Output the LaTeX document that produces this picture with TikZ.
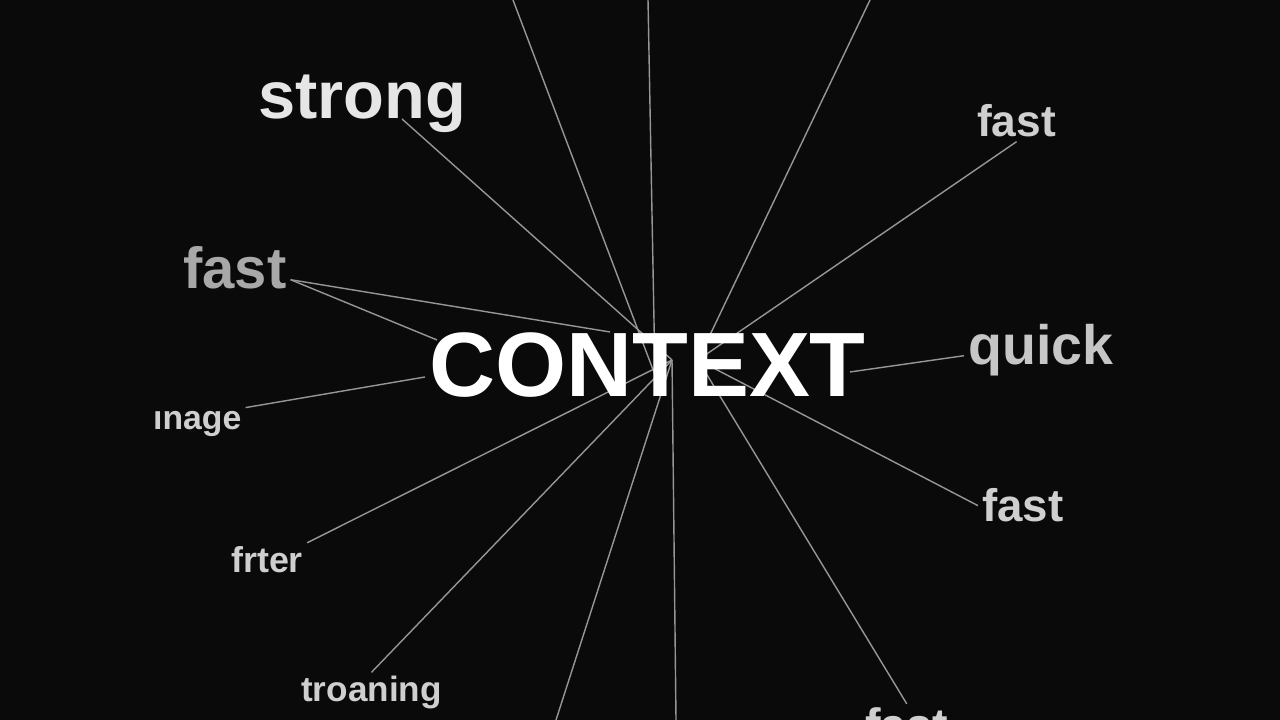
\documentclass[tikz,border=0pt]{standalone}
\usepackage{fontspec}
\setmainfont{Liberation Sans}

\definecolor{bg}{HTML}{0A0A0A}
\definecolor{spokegray}{HTML}{969696}
\definecolor{wordA}{HTML}{E6E6E6}
\definecolor{wordB}{HTML}{A8A8A8}
\definecolor{wordC}{HTML}{CFCFCF}
\definecolor{wordD}{HTML}{C6C6C6}

\begin{document}
\begin{tikzpicture}[
  word/.style={anchor=base west, inner sep=1pt, text=#1},
  spoke/.style={draw=spokegray, line width=0.4pt}
]
\clip (0,0) rectangle (12.8,7.2);
\fill[bg] (0,0) rectangle (12.8,7.2);

% words round the middle
\node[word=wordA, font=\fontsize{19}{23}\selectfont\bfseries] (strong) at (2.54,6.01) {strong};
\node[word=wordB, font=\fontsize{16.5}{20}\selectfont\bfseries] (fastL) at (1.79,4.31) {fast};
\node[word=wordC, font=\fontsize{12.6}{15}\selectfont\bfseries] (fastTR) at (9.73,5.83) {fast};
\node[word=wordD, font=\fontsize{15.8}{19}\selectfont\bfseries] (quick) at (9.64,3.55) {quick};
\node[word=wordC, font=\fontsize{13}{16}\selectfont\bfseries] (fastR) at (9.78,1.98) {fast};
\node[word=wordC, font=\fontsize{13.3}{16}\selectfont\bfseries] (fastB) at (8.61,-0.22) {fast};
\node[word=wordC, font=\fontsize{9.6}{12}\selectfont\bfseries] (image) at (1.49,2.90) {ınage};
\node[word=wordC, font=\fontsize{10.2}{12}\selectfont\bfseries] (frter) at (2.27,1.47) {frter};
\node[word=wordC, font=\fontsize{10}{12}\selectfont\bfseries] (troaning) at (2.97,0.18) {troaning};

% meeting points behind the big word
\coordinate (hubL) at (6.55,3.45);
\coordinate (hubM) at (6.72,3.60);
\coordinate (hubR) at (6.98,3.60);
\coordinate (ctxA) at (6.10,3.88);
\coordinate (ctxB) at (4.37,3.80);
\coordinate (ctxC) at (4.25,3.43);
\coordinate (ctxD) at (8.50,3.48);
% free ends on the border
\coordinate (topA) at (5.13,7.2);
\coordinate (topB) at (6.48,7.2);
\coordinate (topC) at (8.70,7.2);
\coordinate (botA) at (5.56,0);
\coordinate (botB) at (6.76,0);
\coordinate (strongFoot) at ([xshift=1.48cm]strong.base west);

\foreach \a/\b in {topA/hubL, topB/hubL, topC/hubR, strongFoot/hubM,
  fastTR.south/hubR, fastR.west/hubR, fastB.north/hubR,
  frter.north east/hubM, troaning.north/hubM, botA/hubM, botB/hubM,
  fastL.mid east/ctxA, fastL.mid east/ctxB, image.north east/ctxC,
  quick.mid west/ctxD}
{
  \draw[spoke] (\a) -- (\b);
}

\node[text=white, anchor=base, inner sep=1pt, font=\fontsize{26}{31}\selectfont\bfseries] (ctx) at (6.475,3.23) {CONTEXT};
\end{tikzpicture}
\end{document}
